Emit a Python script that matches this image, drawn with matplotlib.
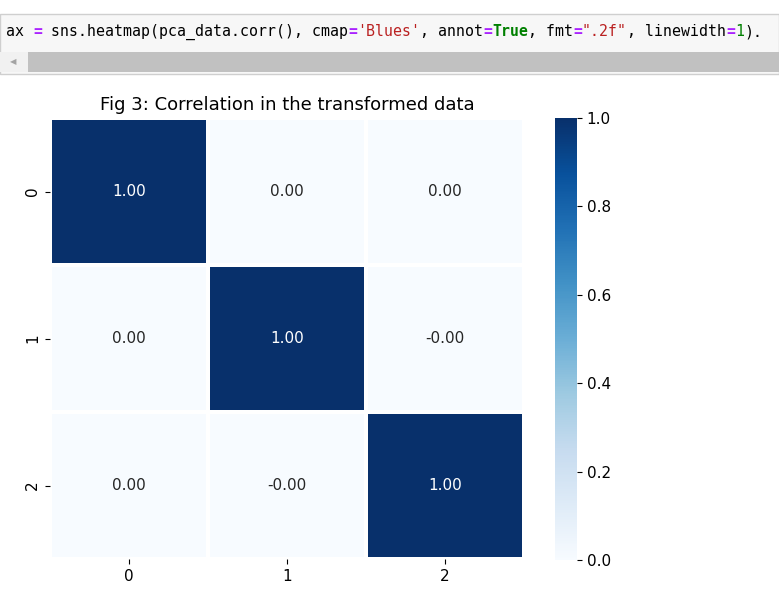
import matplotlib
matplotlib.use("Agg")
import matplotlib.pyplot as plt
import seaborn as sns
import numpy as np
from matplotlib.patches import Rectangle

labels = ["0", "1", "2"]
row0 = [1.0, 0.0, 0.0]
row1 = [0.0, 1.0, -0.0]
row2 = [0.0, -0.0, 1.0]
annot_text = [["1.00", "0.00", "0.00"], ["0.00", "1.00", "-0.00"], ["0.00", "-0.00", "1.00"]]
data = np.array([row0, row1, row2])

fig = plt.figure(figsize=(7.79, 6.04), dpi=100)
W, H = 779, 604

# code cell area
fig.patches.append(Rectangle((0, 1 - 74 / H), 1, 60 / H, transform=fig.transFigure,
                             facecolor="#f7f7f7", edgecolor="#cfcfcf", lw=1))
fig.patches.append(Rectangle((28 / W, 1 - 72 / H), 1, 20 / H, transform=fig.transFigure,
                             facecolor="#c1c1c1", edgecolor="none"))
fig.patches.append(Rectangle((0, 1 - 72 / H), 28 / W, 20 / H, transform=fig.transFigure,
                             facecolor="#f1f1f1", edgecolor="none"))
fig.text(10 / W, 1 - 62 / H, "◀", fontsize=6, color="#a3a3a3", va="center")

segments = [("ax ", "#000000", "normal"), ("=", "#AA22FF", "bold"), (" sns.heatmap(pca_data.corr(), cmap", "#000000", "normal"),
            ("=", "#AA22FF", "bold"), ("'Blues'", "#BA2121", "normal"), (", annot", "#000000", "normal"),
            ("=", "#AA22FF", "bold"), ("True", "#008000", "bold"), (", fmt", "#000000", "normal"),
            ("=", "#AA22FF", "bold"), ('".2f"', "#BA2121", "normal"), (", linewidth", "#000000", "normal"),
            ("=", "#AA22FF", "bold"), ("1", "#008000", "normal"), (").", "#000000", "normal")]
cw = 9.0
x = 6
for s, c, w in segments:
    fig.text(x / W, 1 - 32 / H, s, family="DejaVu Sans Mono", fontsize=10.75, color=c,
             weight=w, va="center")
    x += cw * len(s)

ax = fig.add_axes([50 / W, 1 - 559 / H, 474 / W, 441 / H])
cax = fig.add_axes([555 / W, 1 - 560 / H, 22 / W, 442 / H])
sns.heatmap(data, cmap="Blues", annot=np.array(annot_text), fmt="", linewidth=1.5,
            ax=ax, cbar_ax=cax, vmin=0, vmax=1, annot_kws={"fontsize": 11},
            xticklabels=labels, yticklabels=labels)
ax.set_title("Fig 3: Correlation in the transformed data", fontsize=13)
ax.tick_params(labelsize=11)
cax.tick_params(labelsize=11)
for sp in cax.spines.values():
    sp.set_visible(False)
fig.savefig("out.png", dpi=100)
